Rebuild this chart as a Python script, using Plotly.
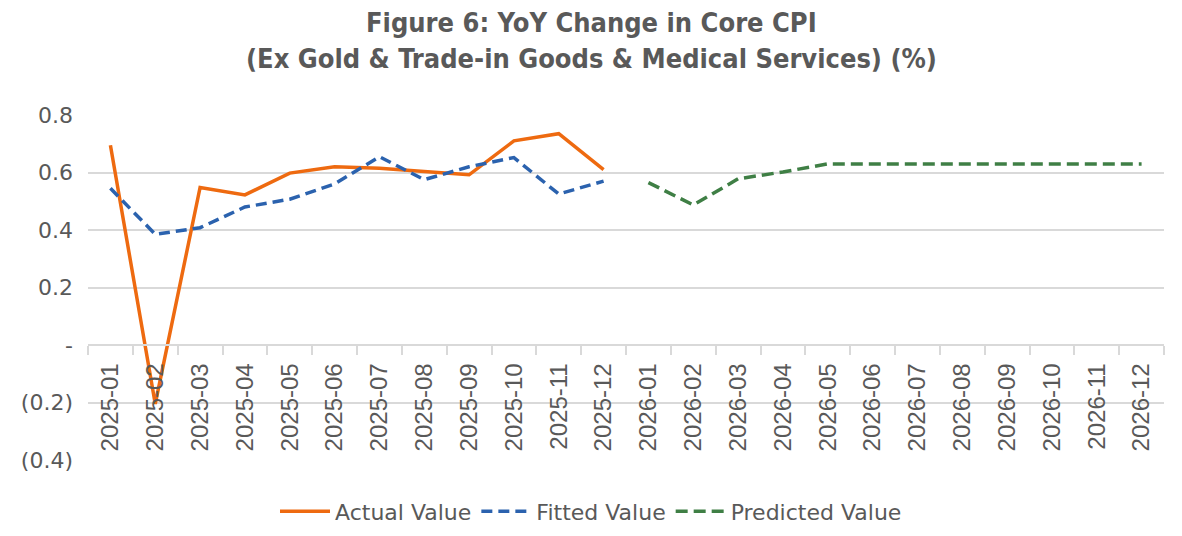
import plotly.graph_objects as go

months = ["2025-01", "2025-02", "2025-03", "2025-04", "2025-05", "2025-06",
          "2025-07", "2025-08", "2025-09", "2025-10", "2025-11", "2025-12",
          "2026-01", "2026-02", "2026-03", "2026-04", "2026-05", "2026-06",
          "2026-07", "2026-08", "2026-09", "2026-10", "2026-11", "2026-12"]

actual = [0.695, -0.205, 0.548, 0.522, 0.598, 0.620, 0.615, 0.605, 0.592, 0.710, 0.735, 0.610,
          None, None, None, None, None, None, None, None, None, None, None, None]
fitted = [0.545, 0.385, 0.408, 0.480, 0.507, 0.560, 0.655, 0.575, 0.620, 0.652, 0.525, 0.570,
          None, None, None, None, None, None, None, None, None, None, None, None]
predicted = [None, None, None, None, None, None, None, None, None, None, None, None,
             0.565, 0.487, 0.578, 0.602, 0.630, 0.630, 0.630, 0.630, 0.630, 0.630, 0.630, 0.630]

y_tickvals = [-0.4, -0.2, 0.0, 0.2, 0.4, 0.6, 0.8]
y_ticktext = ["(0.4)", "(0.2)", "-", "0.2", "0.4", "0.6", "0.8"]

title_lines = ["Figure 6: YoY Change in Core CPI",
               "(Ex Gold & Trade-in Goods & Medical Services) (%)"]

GRAY = "#595959"
GRID = "#d9d9d9"

fig = go.Figure()
fig.add_trace(go.Scatter(x=months, y=actual, mode="lines", name="Actual Value",
                         line=dict(color="#EE6A10", width=3.5), connectgaps=False))
fig.add_trace(go.Scatter(x=months, y=fitted, mode="lines", name="Fitted Value",
                         line=dict(color="#2B62AE", width=3.5, dash="11px,6px"), connectgaps=False))
fig.add_trace(go.Scatter(x=months, y=predicted, mode="lines", name="Predicted Value",
                         line=dict(color="#3F7F45", width=3.5, dash="12px,6px"), connectgaps=False))

L, R, T, B = 88, 18, 115, 76
W, H = 1182, 536
pw, ph = W - L - R, H - T - B

def px_to_paper_x(px):
    return (px - L) / pw

def px_to_paper_y(py):
    return (H - B - py) / ph

title_font = dict(family="DejaVu Sans Condensed, DejaVu Sans", size=27, color=GRAY)
for line, cy in zip(title_lines, [22, 58]):
    fig.add_annotation(text="<b>" + line + "</b>", showarrow=False,
                       xref="paper", yref="paper",
                       x=px_to_paper_x(591), y=px_to_paper_y(cy),
                       xanchor="center", yanchor="middle", font=title_font)

fig.update_layout(
    width=W, height=H,
    margin=dict(l=L, r=R, t=T, b=B, autoexpand=False),
    paper_bgcolor="white", plot_bgcolor="white",
    legend=dict(orientation="h", xref="container", yref="container",
                x=0.5, xanchor="center", y=0.046, yanchor="middle",
                font=dict(family="DejaVu Sans", size=22, color=GRAY),
                itemwidth=50, tracegroupgap=0, bgcolor="rgba(0,0,0,0)"),
    showlegend=True,
)

fig.update_xaxes(
    type="category", categoryorder="array", categoryarray=months,
    range=[-0.5, len(months) - 0.5],
    anchor="free", position=1/3, automargin=False,
    showline=True, linecolor=GRID, linewidth=1.5,
    showgrid=False, zeroline=False,
    ticks="outside", tickson="boundaries", ticklen=9, tickcolor=GRID, tickwidth=1.5,
    tickangle=-90, ticklabelstandoff=8,
    tickfont=dict(family="Liberation Sans, Arial", size=24, color=GRAY),
)
fig.update_yaxes(
    range=[-0.4, 0.8], tickvals=y_tickvals, ticktext=y_ticktext,
    showgrid=True, gridcolor=GRID, gridwidth=1.5, automargin=False,
    zeroline=False, showline=False, ticks="", ticklabelstandoff=14,
    tickfont=dict(family="DejaVu Sans", size=22, color=GRAY),
)

fig.write_html("out.html")
